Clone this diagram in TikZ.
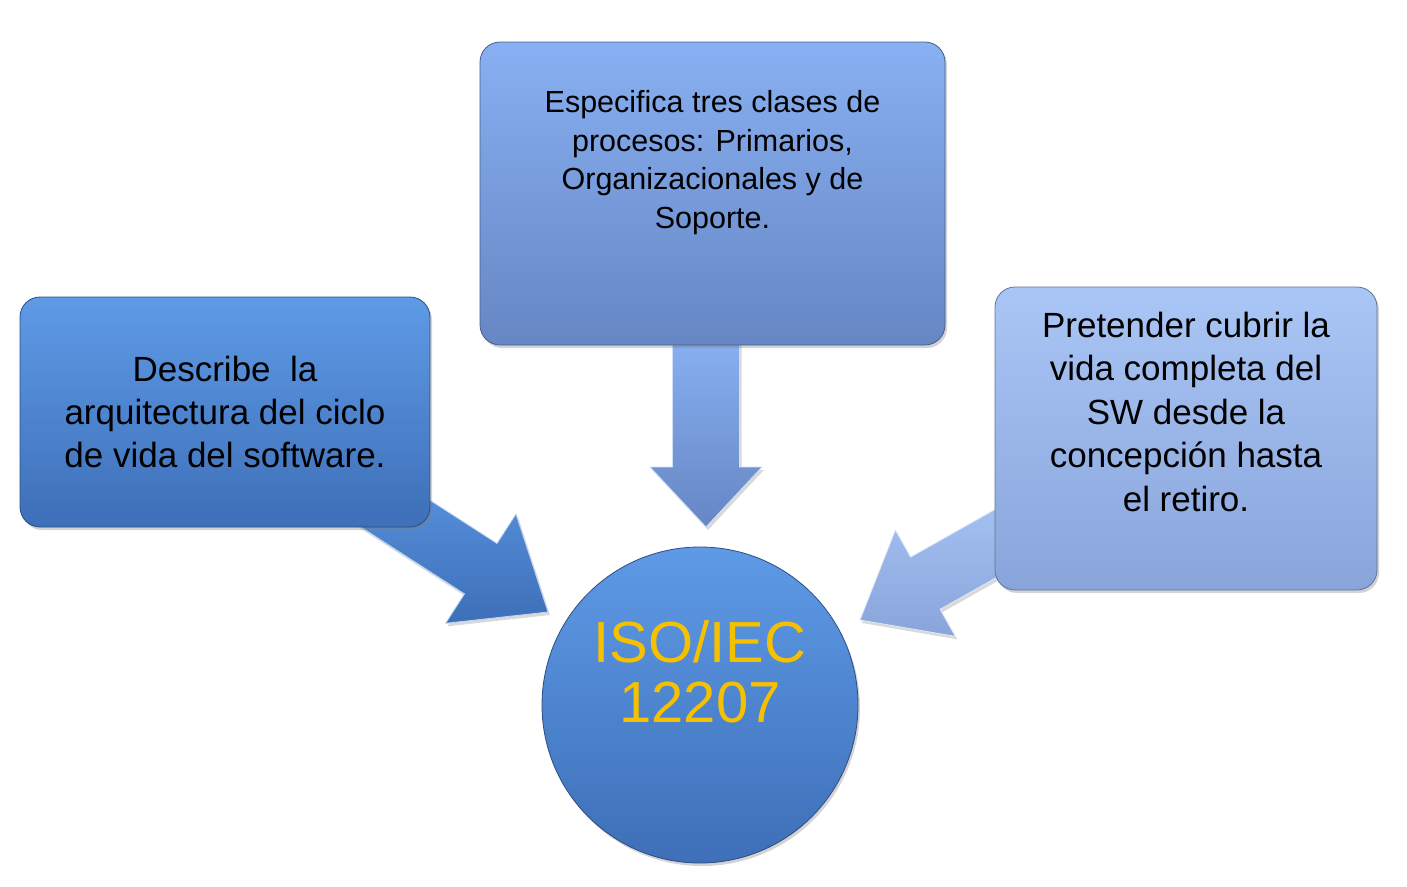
\documentclass[tikz,border=0pt]{standalone}
\usepackage{fontspec}
\setmainfont{Liberation Sans}
\usetikzlibrary{shadows,calc}
\definecolor{ltop}{HTML}{5E9AE6}\definecolor{lbot}{HTML}{3E6FB8}
\definecolor{ttop}{HTML}{88B0F2}\definecolor{tbot}{HTML}{6686C4}
\definecolor{rtop}{HTML}{AAC6F6}\definecolor{rbot}{HTML}{88A4DA}
\definecolor{gold}{HTML}{F5C000}
\tikzset{
 boxs/.style={rounded corners=20pt,draw=#1!70!black,line width=0.8pt,drop shadow={opacity=0.35,shadow xshift=2pt,shadow yshift=-3pt},align=center,inner sep=0pt},
 arr/.style={draw=white!60!#1,line width=0.8pt,drop shadow={opacity=0.3,shadow xshift=2pt,shadow yshift=-3pt}},
}
\newcommand\blockarr[8]{% tip, angle, L, h, w, s, top col, bot col
 \path[arr=#7,top color=#7,bottom color=#8,shift={#1},rotate=#2]
  (0,0) -- (-#4,#5/2) -- (-#4,#6/2) -- (-#3,#6/2) -- (-#3,-#6/2) -- (-#4,-#6/2) -- (-#4,-#5/2) -- cycle;}
\begin{document}
\begin{tikzpicture}[x=1pt,y=-1pt]
\useasboundingbox (0,0) rectangle (1407,886);
\coordinate (tl) at (548,612);
\coordinate (tt) at (706,527);
\coordinate (tr) at (860,620);
\blockarr{(tl)}{-32.8}{260}{80}{130}{60}{ltop}{lbot}
\blockarr{(tt)}{-90}{190}{60}{112}{67}{ttop}{tbot}
\blockarr{(tr)}{-150.6}{230}{75}{122}{60}{rtop}{rbot}
\node[boxs=lbot,top color=ltop,bottom color=lbot,minimum width=410pt,minimum height=230pt,
 font=\fontsize{35}{43}\selectfont] (L) at (225,412)
 {Describe\ \ la\\ arquitectura del ciclo\\ de vida del software.};
\node[boxs=tbot,top color=ttop,bottom color=tbot,minimum width=465pt,minimum height=303pt,
 font=\fontsize{30.5}{38.5}\selectfont] (T) at (712.5,193.5)
 {Especifica tres clases de\\ procesos: Primarios,\\ Organizacionales y de\\ Soporte.\\[30pt]};
\node[boxs=rbot,top color=rtop,bottom color=rbot,minimum width=382pt,minimum height=303pt,
 font=\fontsize{35}{43.5}\selectfont] (R) at (1186,438.5)
 {Pretender cubrir la\\ vida completa del\\ SW desde la\\ concepción hasta\\ el retiro.\\[10pt]};
\node[circle,draw=lbot!70!black,line width=0.8pt,top color=ltop,bottom color=lbot,minimum size=316pt,
 drop shadow={opacity=0.35,shadow xshift=2pt,shadow yshift=-3pt},align=center,text=gold,
 font=\fontsize{58}{60}\selectfont] (C) at (700,705)
 {ISO/IEC\\ 12207\\[8pt]};
\end{tikzpicture}
\end{document}
